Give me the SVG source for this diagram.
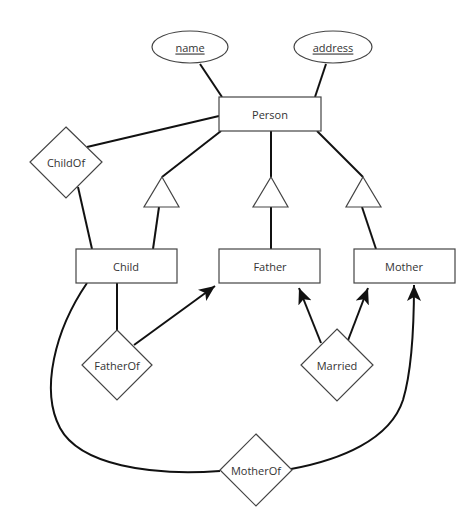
<svg xmlns="http://www.w3.org/2000/svg" width="474" height="517" viewBox="0 0 474 517">
<style>
.shape{fill:#fff;stroke:#444;stroke-width:1.2}
.tri{fill:#fff;stroke:#444;stroke-width:1.2}
.ln{fill:none;stroke:#111;stroke-width:2}
text{font-family:"Open Sans","DejaVu Sans",sans-serif;font-size:11px;fill:#333;text-anchor:middle;dominant-baseline:central}
.u{text-decoration:underline}
</style>
<defs>
<marker id="arr" markerUnits="userSpaceOnUse" markerWidth="18" markerHeight="16" refX="16" refY="7" orient="auto">
<path d="M0,0 L16,7 L0,14 L4,7 z" fill="#111"/>
</marker>
</defs>
<rect width="474" height="517" fill="#fff"/>
<g id="connectors">
<line class="ln" x1="200" y1="64" x2="222" y2="97"/>
<line class="ln" x1="326" y1="64" x2="315" y2="97"/>
<line class="ln" x1="219" y1="116" x2="87" y2="147"/>
<line class="ln" x1="78" y1="187" x2="92" y2="249"/>
<line class="ln" x1="221" y1="131" x2="162" y2="177"/>
<line class="ln" x1="159" y1="207" x2="153" y2="249"/>
<line class="ln" x1="271" y1="131" x2="271" y2="177"/>
<line class="ln" x1="271" y1="207" x2="271" y2="249"/>
<line class="ln" x1="317" y1="131" x2="363" y2="177"/>
<line class="ln" x1="362" y1="207" x2="376" y2="249"/>
<line class="ln" x1="117" y1="283" x2="117" y2="330"/>
<line class="ln" x1="134" y1="345" x2="215" y2="286" marker-end="url(#arr)"/>
<line class="ln" x1="321" y1="343" x2="299" y2="288" marker-end="url(#arr)"/>
<line class="ln" x1="347" y1="343" x2="368" y2="288" marker-end="url(#arr)"/>
<path class="ln" d="M87 283 C55 330 40 390 60 428 C80 465 150 476 220 471"/>
<path class="ln" d="M291 469 C340 460 390 440 403 400 C412 370 414 330 414 285" marker-end="url(#arr)"/>
</g>
<g id="name"><ellipse class="shape" cx="190" cy="47" rx="38" ry="16"/><text class="u" x="190" y="47">name</text></g>
<g id="address"><ellipse class="shape" cx="333" cy="47" rx="39" ry="16"/><text class="u" x="333" y="47">address</text></g>
<g id="person"><rect class="shape" x="219" y="97" width="102" height="34"/><text x="270" y="114">Person</text></g>
<g id="childof"><polygon class="shape" points="66,127 102,162 66,198 30,162"/><text x="66" y="162">ChildOf</text></g>
<g id="isa-child"><polygon class="tri" points="162,177 179,207 144,207"/></g>
<g id="isa-father"><polygon class="tri" points="271,177 288,207 253,207"/></g>
<g id="isa-mother"><polygon class="tri" points="363,177 381,207 346,207"/></g>
<g id="child"><rect class="shape" x="76" y="249" width="101" height="34"/><text x="126" y="266">Child</text></g>
<g id="father"><rect class="shape" x="219" y="249" width="101" height="34"/><text x="270" y="266">Father</text></g>
<g id="mother"><rect class="shape" x="354" y="249" width="101" height="34"/><text x="404" y="266">Mother</text></g>
<g id="fatherof"><polygon class="shape" points="117,330 152,365 117,400 82,365"/><text x="117" y="365">FatherOf</text></g>
<g id="married"><polygon class="shape" points="337,329 373,365 337,401 301,365"/><text x="337" y="365">Married</text></g>
<g id="motherof"><polygon class="shape" points="256,434 292,470 256,506 220,470"/><text x="256" y="470">MotherOf</text></g>
</svg>
